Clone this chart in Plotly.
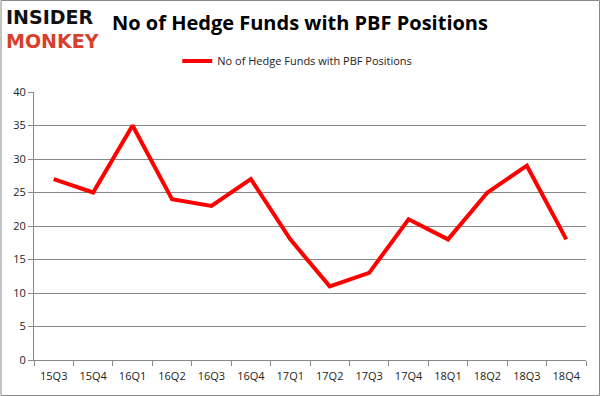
import plotly.graph_objects as go

quarters = ["15Q3", "15Q4", "16Q1", "16Q2", "16Q3", "16Q4", "17Q1", "17Q2",
            "17Q3", "17Q4", "18Q1", "18Q2", "18Q3", "18Q4"]
hedge_funds = [27, 25, 35, 24, 23, 27, 18, 11, 13, 21, 18, 25, 29, 18]
y_ticks = [0, 5, 10, 15, 20, 25, 30, 35, 40]
series_name = "No of Hedge Funds with PBF Positions"
title_text = "No of Hedge Funds with PBF Positions"

W, H = 601, 396
L, R, T, B = 33.5, 15, 92, 36
pw = W - L - R
ph = H - T - B

def px(x):
    return (x - L) / pw

def py(y):
    return (H - B - y) / ph

fig = go.Figure()
fig.add_trace(go.Scatter(
    x=quarters, y=hedge_funds, mode="lines", name=series_name,
    line=dict(color="#ff0000", width=4),
))

fig.update_layout(
    width=W, height=H,
    margin=dict(l=L, r=R, t=T, b=B, autoexpand=False),
    paper_bgcolor="white", plot_bgcolor="white",
    font=dict(family="Open Sans, sans-serif", size=11, color="#222"),
    showlegend=True,
    legend=dict(orientation="h", x=px(297), xanchor="center", y=py(61), yanchor="middle",
                font=dict(size=11, color="#222"), itemwidth=30, bgcolor="rgba(0,0,0,0)"),
    xaxis=dict(
        type="category", showgrid=False, showline=True, linecolor="#888", linewidth=1,
        ticks="outside", tickson="boundaries", ticklen=5, tickcolor="#888",
        ticklabelstandoff=6,
        tickfont=dict(size=11, color="#222"), range=[-0.5, len(quarters) - 0.5],
    ),
    yaxis=dict(
        range=[0, 40], tickvals=y_ticks, showgrid=True, gridcolor="#888", gridwidth=1,
        showline=True, linecolor="#888", linewidth=1, ticks="outside", ticklen=5,
        tickcolor="#888", tickfont=dict(size=11, color="#222"), zeroline=False,
    ),
    annotations=[
        dict(text="<b>" + title_text + "</b>", xref="paper", yref="paper",
             x=px(300), y=py(22), xanchor="center", yanchor="middle", showarrow=False,
             font=dict(size=20, color="black", family="Open Sans, sans-serif")),
        dict(text="<b>INSIDER</b>", xref="paper", yref="paper", x=px(4), y=py(16.5),
             xanchor="left", yanchor="middle", showarrow=False, borderpad=0,
             font=dict(size=19, color="#111", family="DejaVu Sans, sans-serif")),
        dict(text="<b>MONKEY</b>", xref="paper", yref="paper", x=px(4), y=py(41.5),
             xanchor="left", yanchor="middle", showarrow=False, borderpad=0,
             font=dict(size=19, color="#d6402c", family="DejaVu Sans, sans-serif")),
    ],
    shapes=[
        dict(type="rect", xref="paper", yref="paper", x0=px(0.5), x1=px(599.5),
             y0=py(395.5), y1=py(0.5), line=dict(color="#888", width=1), layer="below"),
    ],
)

fig.write_html("out.html", config={"displayModeBar": False},
               post_script="document.body.style.margin='0';")
